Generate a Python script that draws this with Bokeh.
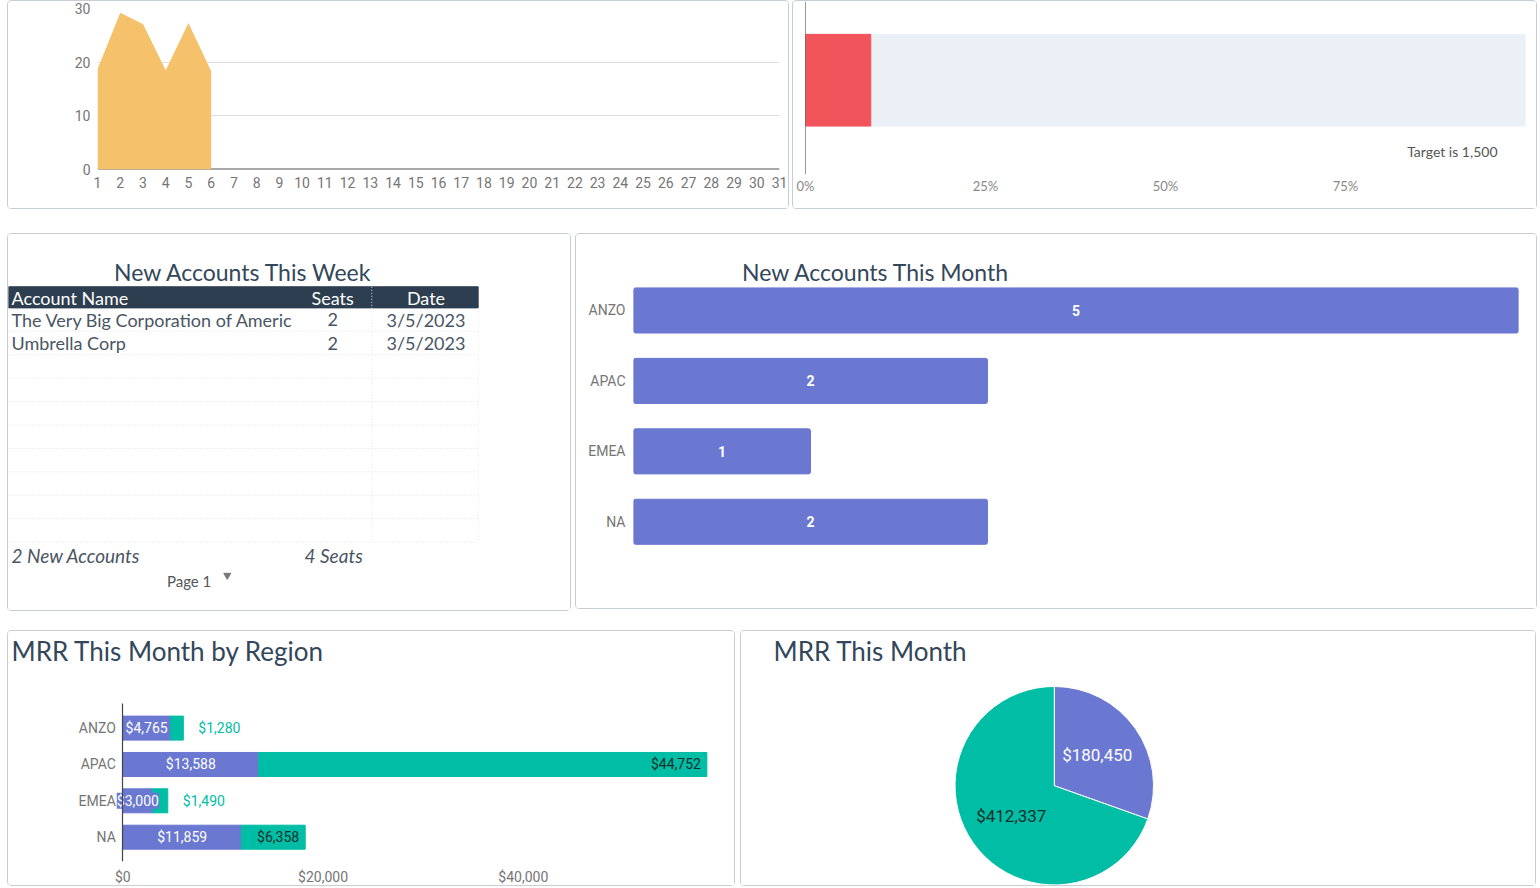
import math
from bokeh.plotting import figure
from bokeh.layouts import row, column
from bokeh.models import Range1d, FixedTicker, Span, NumeralTickFormatter, Spacer
from bokeh.core.properties import value
from bokeh.embed import file_html
from bokeh.resources import INLINE

# ---------------- data ----------------
days = list(range(1, 32))
seat_days = [1, 2, 3, 4, 5, 6]
seats_per_day = [18.7, 29.2, 27.1, 18.5, 27.3, 18.3]
area_y_ticks = [0, 10, 20, 30]

seats_actual = 136
seats_target = 1500
target_pct_ticks = [0, 25, 50, 75]

table_headers = ["Account Name", "Seats", "Date"]
week_accounts = ["The Very Big Corporation of Americ", "Umbrella Corp"]
week_seats = [2, 2]
week_dates = ["3/5/2023", "3/5/2023"]

regions = ["ANZO", "APAC", "EMEA", "NA"]
new_accounts_month = [5, 2, 1, 2]

mrr_first = [4765, 13588, 3000, 11859]
mrr_second = [1280, 44752, 1490, 6358]
mrr_ticks = [0, 20000, 40000]
mrr_max = 60000

pie_values = [180450, 412337]

# ---------------- style ----------------
PURPLE = "#6a78d1"
TEAL = "#00bda5"
RED = "#f2545b"
ORANGE = "#f5c26b"
LIGHT = "#eaf0f6"
NAVY = "#2d3e50"
TITLE = "#33475b"
AXIS = "#757575"
TFONT = "Lato"
AFONT = "Roboto"
BORDER = {"border": "1px solid #c8cdd3", "border-radius": "4px"}

region_idx = list(range(len(regions)))
region_names = {i: r for i, r in enumerate(regions)}


def panel(pw, ph, **kw):
    p = figure(width=pw, height=ph, output_backend="svg", toolbar_location=None,
               styles=BORDER, title=None, **kw)
    p.frame_align = False
    p.outline_line_color = None
    p.background_fill_color = "white"
    p.border_fill_color = "white"
    return p


def style_axis(ax, size="14px", color=AXIS, font=AFONT, standoff=8):
    ax.axis_line_color = None
    ax.major_tick_line_color = None
    ax.minor_tick_line_color = None
    ax.major_tick_out = 0
    ax.major_tick_in = 0
    ax.minor_tick_out = 0
    ax.major_label_text_font = font
    ax.major_label_text_font_size = size
    ax.major_label_text_color = color
    ax.major_label_standoff = standoff


def title_text(p, x, y, text, size="26px", align="left"):
    p.text(x=[x], y=[y], text=[text], text_align=align, text_baseline="middle",
           text_font=value(TFONT), text_font_size=size, text_color=TITLE)


# ---------------- Panel A: daily seats area ----------------
pA = panel(782, 209, x_range=Range1d(1, 31), y_range=Range1d(0, 30),
           min_border_left=89, min_border_right=11, min_border_top=7, min_border_bottom=41)
pA.add_layout(Span(location=0, dimension="width", line_color="#555555", line_width=2, level="underlay"))
pA.varea(x=seat_days, y1=[0] * len(seat_days), y2=seats_per_day, fill_color=ORANGE)
pA.xaxis.ticker = FixedTicker(ticks=days)
pA.yaxis.ticker = FixedTicker(ticks=area_y_ticks)
style_axis(pA.xaxis, standoff=7)
style_axis(pA.yaxis, standoff=7)
pA.xgrid.visible = False
pA.ygrid.grid_line_color = "#dddddd"

# ---------------- Panel B: bullet ----------------
pB = panel(745, 209, x_range=Range1d(0, seats_target), y_range=Range1d(0, 1),
           y_axis_location=None,
           min_border_left=12, min_border_right=13, min_border_top=0, min_border_bottom=36)
pB.hbar(y=[0.545], height=0.53, left=0, right=[seats_target], color=LIGHT)
pB.hbar(y=[0.545], height=0.53, left=0, right=[seats_actual], color=RED)
pB.add_layout(Span(location=0, dimension="height", line_color="#333333", line_width=1))
pB.text(x=[seats_target], y=[0.135], text=[f"Target is {seats_target:,}"], x_offset=-28,
        text_align="right", text_baseline="middle", text_font=value(TFONT),
        text_font_size="14px", text_color="#555555")
tick_vals = [int(seats_target * t / 100) for t in target_pct_ticks]
pB.xaxis.ticker = FixedTicker(ticks=tick_vals)
pB.xaxis.major_label_overrides = {v: f"{t}%" for v, t in zip(tick_vals, target_pct_ticks)}
style_axis(pB.xaxis, size="13px", color="#888888", font=TFONT, standoff=3)
pB.grid.visible = False

# ---------------- Panel C: table (page-pixel layout) ----------------
pC = panel(564, 378, x_range=Range1d(8, 570), y_range=Range1d(610, 234),
           x_axis_location=None, y_axis_location=None,
           min_border_left=0, min_border_right=0, min_border_top=0, min_border_bottom=0)
pC.grid.visible = False
tbl_left, tbl_div, tbl_right = 8, 370, 476
head_top, head_bot = 286, 307
row_h = 23.3
n_rows = 10
col_x = [11, 331, 424]
col_align = ["left", "center", "center"]
title_text(pC, 242, 271, "New Accounts This Week", size="23px", align="center")
pC.quad(left=[tbl_left], right=[tbl_right], top=[head_top], bottom=[head_bot], color=NAVY)
for x, a, h in zip(col_x, col_align, table_headers):
    pC.text(x=[x], y=[(head_top + head_bot) / 2 + 0.5], text=[h], text_align=a, text_baseline="middle",
            text_font=value(TFONT), text_font_size="18px", text_color="white")
sep_y = [head_bot + row_h * k for k in range(1, n_rows + 1)]
pC.segment(x0=[tbl_left] * n_rows, x1=[tbl_right] * n_rows, y0=sep_y, y1=sep_y,
           line_color="#dde2e8", line_dash="1 2", line_width=1)
pC.segment(x0=[tbl_div, tbl_right], x1=[tbl_div, tbl_right], y0=[head_top, head_bot],
           y1=[sep_y[-1], sep_y[-1]], line_color="#e1e5ea", line_dash="1 2", line_width=1)
row_y = [head_bot + row_h * (k + 0.5) for k in range(len(week_accounts))]
body = dict(text_baseline="middle", text_font=value(TFONT), text_font_size="18px", text_color="#4a5563")
pC.text(x=[col_x[0]] * len(row_y), y=row_y, text=week_accounts, text_align="left", **body)
pC.text(x=[col_x[1]] * len(row_y), y=row_y, text=[str(s) for s in week_seats], text_align="center", **body)
pC.text(x=[col_x[2]] * len(row_y), y=row_y, text=week_dates, text_align="center", **body)
foot = dict(body, text_font_size="19px", text_font_style="italic")
foot_y = sep_y[-1] + 13
pC.text(x=[col_x[0]], y=[foot_y], text=[f"{len(week_accounts)} New Accounts"], text_align="left", **foot)
pC.text(x=[col_x[1] + 1], y=[foot_y], text=[f"{sum(week_seats)} Seats"], text_align="center", **foot)
pC.text(x=[188], y=[579], text=["Page 1"], text_align="center", text_baseline="middle",
        text_font=value(TFONT), text_font_size="15px", text_color="#555555")
pC.scatter(x=[226], y=[573], marker="inverted_triangle", size=7, color="#777777")

# ---------------- Panel D: new accounts by region ----------------
# frame: x 634..1517, y 234..554 ; bar centres 70 px apart, first at 309.5
D_step, D_first = 70.0, 309.5
D_px_unit = (1517 - 634) / max(new_accounts_month)
pD = panel(962, 376, y_range=Range1d(3 + (554 - 519.5) / D_step, -(D_first - 234) / D_step),
           x_range=Range1d(0, max(new_accounts_month)), x_axis_location=None,
           min_border_left=57, min_border_right=20, min_border_top=0, min_border_bottom=54)
pD.hbar(y=region_idx, right=new_accounts_month, height=0.64, color=PURPLE, border_radius=2)
pD.text(x=[v / 2 for v in new_accounts_month], y=region_idx, text=[str(v) for v in new_accounts_month],
        text_align="center", text_baseline="middle", text_font=value(AFONT), text_font_size="14px",
        text_font_style="bold", text_color="white")
pD.yaxis.ticker = FixedTicker(ticks=region_idx)
pD.yaxis.major_label_overrides = region_names
style_axis(pD.yaxis, standoff=8)
pD.grid.visible = False
title_text(pD, (876 - 634) / D_px_unit, (271 - D_first) / D_step, "New Accounts This Month",
           size="23px", align="center")

# ---------------- Panel E: MRR by region ----------------
# frame: x 8..721 (value 0 at x=122), y 631..860 ; bar centres 36.2 px apart, first at 727.2
E_k = (721 - 122) / mrr_max
E_step, E_first = 36.2, 727.2
E_bottom = 3 + (860 - (E_first + 3 * E_step)) / E_step
pE = panel(728, 256, x_range=Range1d(-(122 - 8) / E_k, mrr_max),
           y_range=Range1d(E_bottom, -(E_first - 631) / E_step),
           min_border_left=0, min_border_right=13, min_border_top=0, min_border_bottom=25)
totals = [a + b for a, b in zip(mrr_first, mrr_second)]
pE.hbar(y=region_idx, left=0, right=mrr_first, height=0.66, color=PURPLE)
pE.hbar(y=region_idx, left=mrr_first, right=totals, height=0.66, color=TEAL)
pE.text(x=[v / 2 for v in mrr_first], y=region_idx, text=[f"${v:,}" for v in mrr_first],
        text_align="center", text_baseline="middle", text_font=value(AFONT), text_font_size="14px",
        text_color="white", background_fill_color=PURPLE)
inside = [b * E_k > 55 for b in mrr_second]
in_idx = [i for i, f in enumerate(inside) if f]
out_idx = [i for i, f in enumerate(inside) if not f]
pE.text(x=[totals[i] for i in in_idx], y=in_idx,
        text=[f"${mrr_second[i]:,}" for i in in_idx], x_offset=-6, text_align="right",
        text_baseline="middle", text_font=value(AFONT), text_font_size="14px", text_color="#16302b")
pE.text(x=[totals[i] for i in out_idx], y=out_idx,
        text=[f"${mrr_second[i]:,}" for i in out_idx], x_offset=15, text_align="left",
        text_baseline="middle", text_font=value(AFONT), text_font_size="14px", text_color=TEAL)
pE.xaxis.ticker = FixedTicker(ticks=mrr_ticks)
pE.xaxis.formatter = NumeralTickFormatter(format="$0,0")
style_axis(pE.xaxis, standoff=7)
pE.yaxis.fixed_location = 0
pE.yaxis.ticker = FixedTicker(ticks=region_idx)
pE.yaxis.major_label_overrides = region_names
style_axis(pE.yaxis, standoff=7)
pE.yaxis.axis_line_color = "#444444"
pE.yaxis.axis_line_width = 1.2
pE.yaxis.bounds = (-(E_first - 703) / E_step, E_bottom)
pE.grid.visible = False
title_text(pE, (11 - 122) / E_k, (650 - E_first) / E_step, "MRR This Month by Region")

# ---------------- Panel F: MRR pie ----------------
R = 99.0
cx, cy = 1053, 784
pF = panel(796, 256, x_range=Range1d((741 - cx) / R, (1535 - cx) / R),
           y_range=Range1d((cy - 885) / R, (cy - 631) / R),
           x_axis_location=None, y_axis_location=None,
           min_border_left=0, min_border_right=0, min_border_top=0, min_border_bottom=0)
pF.grid.visible = False
tot = sum(pie_values)
cum = [0.0]
for v in pie_values:
    cum.append(cum[-1] + v / tot)
a0 = [math.pi / 2 - 2 * math.pi * cum[i] for i in range(len(pie_values))]
a1 = [math.pi / 2 - 2 * math.pi * cum[i + 1] for i in range(len(pie_values))]
pF.wedge(x=0, y=0, radius=1, start_angle=a1, end_angle=a0, direction="anticlock",
         fill_color=[PURPLE, TEAL], line_color="white", line_width=1)
mid = [(s + e) / 2 for s, e in zip(a0, a1)]
pF.text(x=[0.53 * math.cos(m) for m in mid], y=[0.53 * math.sin(m) for m in mid],
        text=[f"${v:,}" for v in pie_values], text_align="center", text_baseline="middle",
        text_font=value(AFONT), text_font_size="17px", text_color=["white", "#16302b"])
title_text(pF, (773 - cx) / R, (cy - 650) / R, "MRR This Month")

root = column(
    row(Spacer(width=7), pA, Spacer(width=3), pB),
    Spacer(height=24),
    row(Spacer(width=7), pC, Spacer(width=4), pD),
    Spacer(height=19),
    row(Spacer(width=7), pE, Spacer(width=5), pF),
    styles={"position": "absolute", "left": "0px", "top": "0px"},
)

open("out.html", "w").write(file_html(root, INLINE))
